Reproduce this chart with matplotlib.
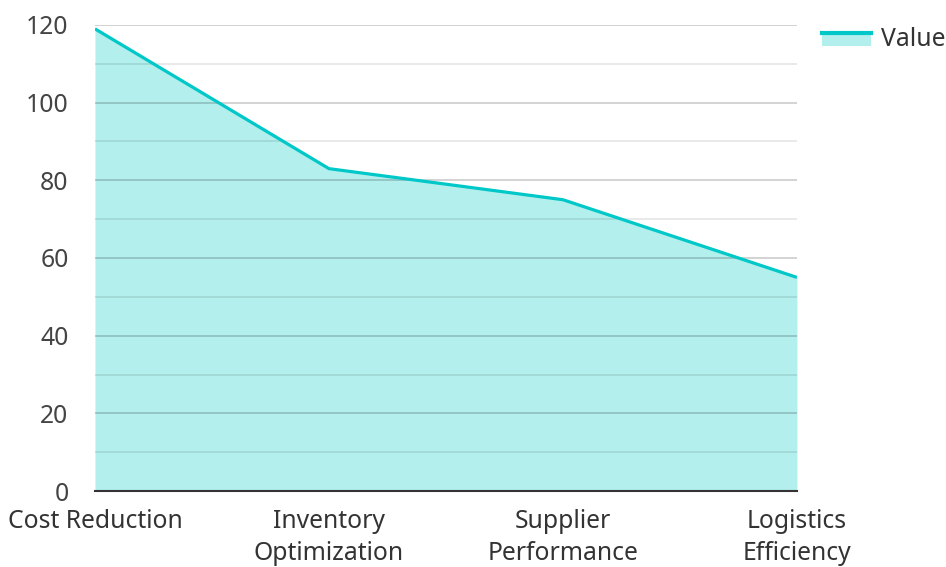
import matplotlib.pyplot as plt
from matplotlib.patches import Patch, Rectangle
from matplotlib.lines import Line2D
from matplotlib.legend_handler import HandlerBase
from matplotlib.ticker import MultipleLocator

plt.rcParams['font.family'] = ['Noto Sans', 'DejaVu Sans']

categories = ["Cost Reduction", "Inventory\nOptimization", "Supplier\nPerformance", "Logistics\nEfficiency"]
values = [119, 83, 75, 55]

line_color = "#00c8c8"
fill_color = "#b2efed"
fs = 17.8


class AreaHandler(HandlerBase):
    # filled box with the line along its top edge
    def create_artists(self, legend, orig_handle, xdescent, ydescent, width, height, fontsize, trans):
        top = height * 0.75
        bottom = height * 0.05
        rect = Rectangle((-xdescent, bottom - ydescent), width, top - bottom,
                         facecolor=fill_color, edgecolor='none', transform=trans)
        line = Line2D([-xdescent, width - xdescent], [top - ydescent, top - ydescent],
                      color=line_color, linewidth=3, transform=trans)
        return [rect, line]


fig = plt.figure(figsize=(9.46, 5.67), dpi=100)
ax = fig.add_axes([0.1004, 0.134, 0.742, 0.822])

x = range(len(categories))
ax.fill_between(x, values, 0, color=fill_color, linewidth=0, zorder=1)
ax.plot(x, values, color=line_color, linewidth=2.3, zorder=3, solid_capstyle='butt')

ax.set_xlim(0, len(categories) - 1)
ax.set_ylim(0, 120)
ax.yaxis.set_major_locator(MultipleLocator(20))
ax.yaxis.set_minor_locator(MultipleLocator(10))
ax.grid(which='major', axis='y', color='#000000', alpha=0.2, linewidth=1.2, zorder=2)
ax.grid(which='minor', axis='y', color='#000000', alpha=0.1, linewidth=1.2, zorder=2)
ax.set_axisbelow(False)

for s in ['top', 'right', 'left']:
    ax.spines[s].set_visible(False)
ax.spines['bottom'].set_color('#333333')
ax.spines['bottom'].set_linewidth(1.5)
ax.spines['bottom'].set_zorder(4)

ax.set_xticks(list(x))
ax.set_xticklabels(categories, fontsize=fs, color='#333333', linespacing=1.36)
ax.tick_params(axis='x', length=0, pad=13)
ax.tick_params(axis='y', which='both', length=0, pad=19, labelsize=fs, labelcolor='#444444')

handle = Patch(facecolor=fill_color)
fig.legend([handle], ["Value"], loc='upper left', bbox_to_anchor=(822 / 946, 1 - 27 / 567),
           frameon=False, fontsize=fs, handlelength=2.0, handleheight=0.8, handletextpad=0.4,
           borderpad=0, borderaxespad=0, labelcolor='#333333',
           handler_map={Patch: AreaHandler()})

fig.savefig("out.png", dpi=100)
